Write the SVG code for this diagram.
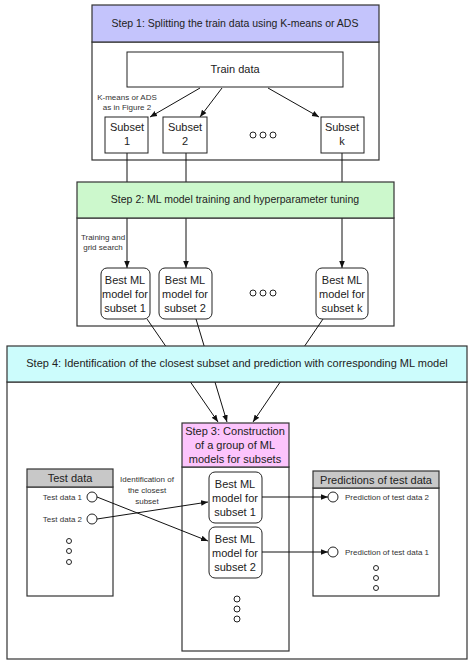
<svg xmlns="http://www.w3.org/2000/svg" width="474" height="664" viewBox="0 0 474 664">
<defs>
<marker id="ah" viewBox="0 0 10 10" refX="10" refY="5" markerWidth="7" markerHeight="7" markerUnits="userSpaceOnUse" orient="auto">
<path d="M0,1 L10,5 L0,9 z" fill="#111"/>
</marker>
</defs>
<style>
text{font-family:"Liberation Sans","DejaVu Sans",sans-serif;fill:#222}
.frame{fill:#fff;stroke:#333;stroke-width:1.2}
.hdr{stroke:#333;stroke-width:1.2}
.box{fill:#fff;stroke:#222;stroke-width:1}
.h{font-size:10.5px;text-anchor:middle}
.m{font-size:11px;text-anchor:middle}
.s{font-size:8px;text-anchor:middle;fill:#333}
.sl{font-size:8px;fill:#333}
.sr{font-size:8px;text-anchor:end;fill:#333}
.con{stroke:#111;stroke-width:1;fill:none}
.dot{fill:#fff;stroke:#222;stroke-width:1}
</style>
<rect width="474" height="664" fill="#fff"/>

<g id="step1-frame"><rect class="frame" x="92" y="42" width="287" height="118"/></g>
<g id="step2-frame"><rect class="frame" x="77" y="218" width="317" height="108" style="fill:none"/></g>
<g id="step4-frame"><rect class="frame" x="7" y="382" width="460" height="277" style="fill:none"/></g>

<g id="connectors">
<line class="con" x1="200" y1="88" x2="150" y2="117" marker-end="url(#ah)"/>
<line class="con" x1="222" y1="88" x2="200" y2="117" marker-end="url(#ah)"/>
<line class="con" x1="268" y1="88" x2="319" y2="117" marker-end="url(#ah)"/>
<line class="con" x1="127" y1="153" x2="127" y2="268" marker-end="url(#ah)"/>
<line class="con" x1="186" y1="153" x2="186" y2="268" marker-end="url(#ah)"/>
<line class="con" x1="342" y1="153" x2="342" y2="268" marker-end="url(#ah)"/>
<line class="con" x1="147" y1="319" x2="218" y2="422" marker-end="url(#ah)"/>
<line class="con" x1="196" y1="319" x2="227" y2="422" marker-end="url(#ah)"/>
<line class="con" x1="323" y1="319" x2="253" y2="422" marker-end="url(#ah)"/>
</g>

<g id="step1-header">
<rect class="hdr" x="92" y="5" width="287" height="37" fill="#c4c4fc"/>
<text class="h" x="235" y="27">Step 1: Splitting the train data using K-means or ADS</text>
</g>
<g id="train-data"><rect class="box" x="127" y="52" width="216" height="35"/><text class="m" x="235" y="73">Train data</text></g>
<g id="kmeans-label"><text class="s" x="127" y="100">K-means or ADS</text><text class="s" x="127" y="110">as in Figure 2</text></g>
<g id="subset1"><rect class="box" x="105" y="117" width="43" height="36"/><text class="m" x="127" y="131">Subset</text><text class="m" x="127" y="145">1</text></g>
<g id="subset2"><rect class="box" x="163" y="117" width="44" height="36"/><text class="m" x="185" y="131">Subset</text><text class="m" x="185" y="145">2</text></g>
<g id="subsetk"><rect class="box" x="321" y="117" width="43" height="36"/><text class="m" x="342" y="131">Subset</text><text class="m" x="342" y="145">k</text></g>
<g id="dots1"><circle class="dot" cx="253" cy="135" r="3"/><circle class="dot" cx="263" cy="135" r="3"/><circle class="dot" cx="273" cy="135" r="3"/></g>

<g id="step2-header">
<rect class="hdr" x="77" y="182" width="317" height="36" fill="#ccf8cc"/>
<text class="h" x="235" y="203">Step 2: ML model training and hyperparameter tuning</text>
</g>
<g id="grid-label"><text class="s" x="103" y="240">Training and</text><text class="s" x="103" y="250">grid search</text></g>
<g id="best1"><rect class="box" x="101" y="268" width="49" height="51" rx="6"/><text class="m" x="125" y="284">Best ML</text><text class="m" x="125" y="298">model for</text><text class="m" x="125" y="312">subset 1</text></g>
<g id="best2"><rect class="box" x="159" y="268" width="53" height="51" rx="6"/><text class="m" x="185" y="284">Best ML</text><text class="m" x="185" y="298">model for</text><text class="m" x="185" y="312">subset 2</text></g>
<g id="bestk"><rect class="box" x="316" y="268" width="52" height="51" rx="6"/><text class="m" x="342" y="284">Best ML</text><text class="m" x="342" y="298">model for</text><text class="m" x="342" y="312">subset k</text></g>
<g id="dots2"><circle class="dot" cx="253" cy="293" r="3"/><circle class="dot" cx="263" cy="293" r="3"/><circle class="dot" cx="273" cy="293" r="3"/></g>

<g id="step4-header">
<rect class="hdr" x="7" y="346" width="460" height="36" fill="#ccfcfc"/>
<text class="h" x="237" y="367" style="font-size:11px">Step 4: Identification of the closest subset and prediction with corresponding ML model</text>
</g>

<g id="step3">
<rect class="frame" x="182" y="467" width="107" height="184"/>
<rect class="hdr" x="182" y="423" width="107" height="44" fill="#fcc4fc"/>
<text class="m" x="235" y="435">Step 3: Construction</text>
<text class="m" x="235" y="449">of a group of ML</text>
<text class="m" x="235" y="463">models for subsets</text>
</g>
<g id="s3best1"><rect class="box" x="209" y="472" width="53" height="51" rx="6"/><text class="m" x="235" y="488">Best ML</text><text class="m" x="235" y="502">model for</text><text class="m" x="235" y="516">subset 1</text></g>
<g id="s3best2"><rect class="box" x="209" y="527" width="53" height="51" rx="6"/><text class="m" x="235" y="543">Best ML</text><text class="m" x="235" y="557">model for</text><text class="m" x="235" y="571">subset 2</text></g>
<g id="dots3"><circle class="dot" cx="237" cy="599" r="3"/><circle class="dot" cx="237" cy="609" r="3"/><circle class="dot" cx="237" cy="619" r="3"/></g>

<g id="test-data">
<rect class="frame" x="27" y="487" width="86" height="109"/>
<rect class="hdr" x="27" y="469" width="86" height="18" fill="#c8c8c8"/>
<text class="m" x="70" y="482">Test data</text>
<text class="sr" x="82" y="500">Test data 1</text>
<circle class="dot" cx="92" cy="497" r="5"/>
<text class="sr" x="82" y="522">Test data 2</text>
<circle class="dot" cx="92" cy="519" r="5"/>
<circle class="dot" cx="69" cy="541" r="2.5"/><circle class="dot" cx="69" cy="551" r="2.5"/><circle class="dot" cx="69" cy="562" r="2.5"/>
</g>
<g id="ident-label"><text class="s" x="147" y="482">Identification of</text><text class="s" x="147" y="493">the closest</text><text class="s" x="147" y="504">subset</text></g>

<g id="predictions">
<rect class="frame" x="313" y="488" width="126" height="108"/>
<rect class="hdr" x="313" y="471" width="126" height="17" fill="#c8c8c8"/>
<text class="m" x="376" y="484">Predictions of test data</text>
<circle class="dot" cx="333" cy="497" r="5"/>
<text class="sl" x="345" y="500">Prediction of test data 2</text>
<circle class="dot" cx="333" cy="552" r="5"/>
<text class="sl" x="345" y="555">Prediction of test data 1</text>
<circle class="dot" cx="376" cy="568" r="2.5"/><circle class="dot" cx="376" cy="578" r="2.5"/><circle class="dot" cx="376" cy="588" r="2.5"/>
</g>

<g id="connectors-bottom">
<line class="con" x1="97" y1="519" x2="208" y2="502" marker-end="url(#ah)"/>
<line class="con" x1="97" y1="497" x2="208" y2="541" marker-end="url(#ah)"/>
<line class="con" x1="262" y1="497" x2="328" y2="497" marker-end="url(#ah)"/>
<line class="con" x1="262" y1="552" x2="328" y2="552" marker-end="url(#ah)"/>
</g>
</svg>
